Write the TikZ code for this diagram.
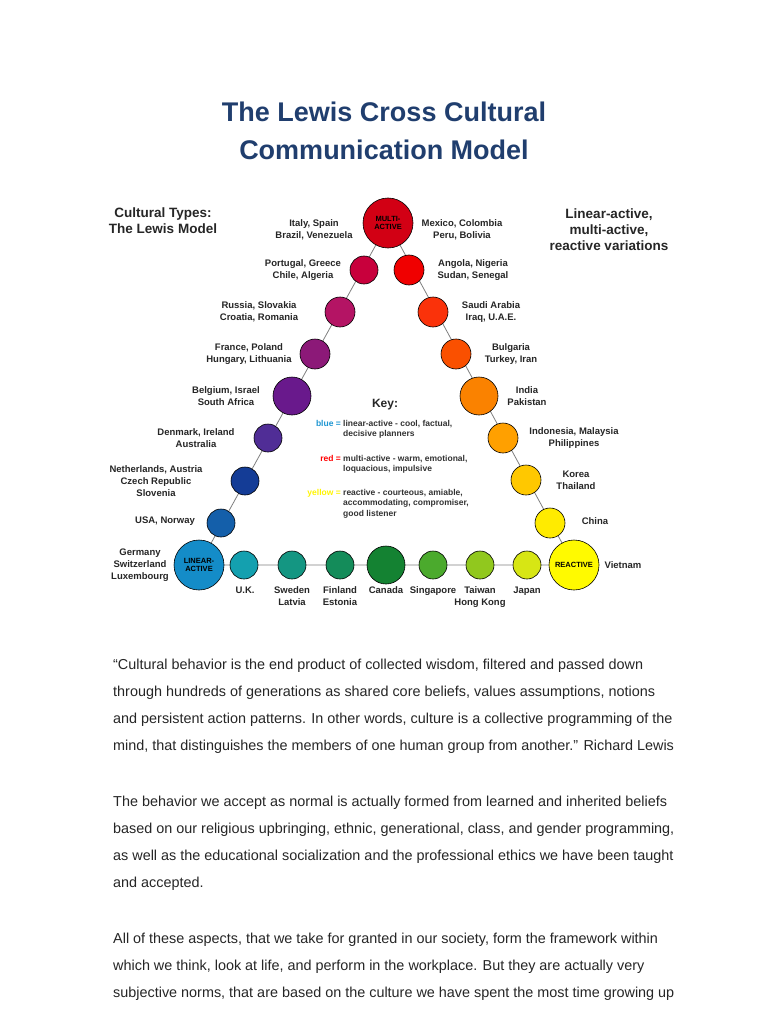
\documentclass[tikz,border=0pt]{standalone}
\usepackage{fontspec}
\setmainfont{Liberation Sans}
\begin{document}
\begin{tikzpicture}[x=1pt,y=-1pt,
  dot/.style={circle,draw=black,line width=0.6pt,inner sep=0pt,minimum size=#1,align=center,font=\fontsize{7.5}{8.5}\selectfont\bfseries},
  lab/.style={font=\fontsize{9.5}{12}\selectfont\bfseries,align=center,text=black!85},
  blab/.style={lab,anchor=north},
  hd/.style={align=center,font=\fontsize{13.5}{16}\selectfont\bfseries,text=black!85},
  body/.style={anchor=west,font=\fontsize{14.4}{17}\selectfont,text=black!85,inner sep=0pt},
  keyt/.style={anchor=north west,font=\fontsize{8.5}{10.5}\selectfont\bfseries,align=left,inner sep=0pt,text=black!80},
  keyl/.style={anchor=north east,inner sep=0pt,font=\fontsize{8.5}{10.5}\selectfont\bfseries}]
\useasboundingbox (0,0) rectangle (768,1024);
\fill[white] (0,0) rectangle (768,1024);
\node[font=\fontsize{27}{38}\selectfont\bfseries,text={rgb,255:red,32;green,62;blue,110},align=center] (title) at (384,131) {The Lewis Cross Cultural\\Communication Model};
\coordinate (M) at (388,223); \coordinate (L) at (199,565); \coordinate (R) at (574,565);
\draw[gray,line width=0.8pt] (M) -- (L) -- (R) -- cycle;
\def\C#1#2#3#4#5#6{\definecolor{c#1}{RGB}{#5}\node[dot=#4,fill=c#1] (#1) at (#2,#3) {#6};}
\C{M}{388}{223}{50}{210,0,20}{MULTI-\\ACTIVE}
\C{l1}{364}{270}{28}{200,0,60}{}
\C{l2}{340}{312}{30}{180,20,100}{}
\C{l3}{315}{354}{30}{140,25,120}{}
\C{l4}{292}{396}{38}{105,25,140}{}
\C{l5}{268}{438}{28}{80,45,150}{}
\C{l6}{245}{481}{28}{20,60,150}{}
\C{l7}{221}{523}{28}{20,95,170}{}
\C{L}{199}{565}{50}{20,140,200}{LINEAR-\\ACTIVE}
\C{r1}{409}{270}{30}{240,0,0}{}
\C{r2}{433}{312}{30}{250,50,10}{}
\C{r3}{456}{354}{30}{250,80,0}{}
\C{r4}{479}{396}{38}{250,130,0}{}
\C{r5}{503}{438}{30}{255,160,0}{}
\C{r6}{526}{480}{30}{255,200,0}{}
\C{r7}{550}{523}{30}{255,235,0}{}
\C{R}{574}{565}{50}{255,250,0}{REACTIVE}
\C{b1}{244}{565}{28}{20,160,175}{}
\C{b2}{292}{565}{28}{20,150,130}{}
\C{b3}{340}{565}{28}{20,140,90}{}
\C{b4}{386}{565}{38}{20,130,50}{}
\C{b5}{433}{565}{28}{75,170,45}{}
\C{b6}{480}{565}{28}{145,200,30}{}
\C{b7}{527}{565}{28}{215,230,20}{}
\node[hd] (ct) at (163,221) {Cultural Types:\\The Lewis Model};
\node[hd] (lv) at (609,230) {Linear-active,\\multi-active,\\reactive variations};
\node[lab] at (314,230) {Italy, Spain\\Brazil, Venezuela};
\node[lab] at (462,230) {Mexico, Colombia\\Peru, Bolivia};
\node[lab] at (303,270) {Portugal, Greece\\Chile, Algeria};
\node[lab] at (473,270) {Angola, Nigeria\\Sudan, Senegal};
\node[lab] at (259,312) {Russia, Slovakia\\Croatia, Romania};
\node[lab] at (491,312) {Saudi Arabia\\Iraq, U.A.E.};
\node[lab] at (249,354) {France, Poland\\Hungary, Lithuania};
\node[lab] at (511,354) {Bulgaria\\Turkey, Iran};
\node[lab] at (226,396) {Belgium, Israel\\South Africa};
\node[lab] at (527,396) {India\\Pakistan};
\node[lab] at (196,438) {Denmark, Ireland\\Australia};
\node[lab] at (574,438) {Indonesia, Malaysia\\Philippines};
\node[lab] at (156,481) {Netherlands, Austria\\Czech Republic\\Slovenia};
\node[lab] at (576,480) {Korea\\Thailand};
\node[lab] at (165,521) {USA, Norway};
\node[lab] at (595,521) {China};
\node[lab] at (140,565) {Germany\\Switzerland\\Luxembourg};
\node[lab] at (623,565) {Vietnam};
\node[blab] at (245,583) {U.K.};
\node[blab] at (292,583) {Sweden\\Latvia};
\node[blab] at (340,583) {Finland\\Estonia};
\node[blab] at (386,583) {Canada};
\node[blab] at (433,583) {Singapore};
\node[blab] at (480,583) {Taiwan\\Hong Kong};
\node[blab] at (527,583) {Japan};
\node[lab,font=\fontsize{12}{13}\selectfont\bfseries] (key) at (385,405) {Key:};
\node[keyl,text={rgb,255:red,30;green,150;blue,210}] (kb) at (341,420) {blue =};
\node[keyt] (kbt) at (343,420) {linear-active - cool, factual,\\decisive planners};
\node[keyl,text=red] (kr) at (341,455) {red =};
\node[keyt] (krt) at (343,455) {multi-active - warm, emotional,\\loquacious, impulsive};
\node[keyl,text={rgb,255:red,255;green,245;blue,0}] (ky) at (341,489) {yellow =};
\node[keyt] (kyt) at (343,489) {reactive - courteous, amiable,\\accommodating, compromiser,\\good listener};
\node[body] (p1) at (113,666) {“Cultural behavior is the end product of collected wisdom, filtered and passed down};
\node[body] (p2) at (113,693) {through hundreds of generations as shared core beliefs, values assumptions, notions};
\node[body] (p3) at (113,720) {and persistent action patterns. In other words, culture is a collective programming of the};
\node[body] (p4) at (113,747) {mind, that distinguishes the members of one human group from another.” Richard Lewis};
\node[body] (q1) at (113,803) {The behavior we accept as normal is actually formed from learned and inherited beliefs};
\node[body] (q2) at (113,830) {based on our religious upbringing, ethnic, generational, class, and gender programming,};
\node[body] (q3) at (113,857) {as well as the educational socialization and the professional ethics we have been taught};
\node[body] (q4) at (113,884) {and accepted.};
\node[body] (s1) at (113,940) {All of these aspects, that we take for granted in our society, form the framework within};
\node[body] (s2) at (113,967) {which we think, look at life, and perform in the workplace. But they are actually very};
\node[body] (s3) at (113,994) {subjective norms, that are based on the culture we have spent the most time growing up};
\end{tikzpicture}
\end{document}
